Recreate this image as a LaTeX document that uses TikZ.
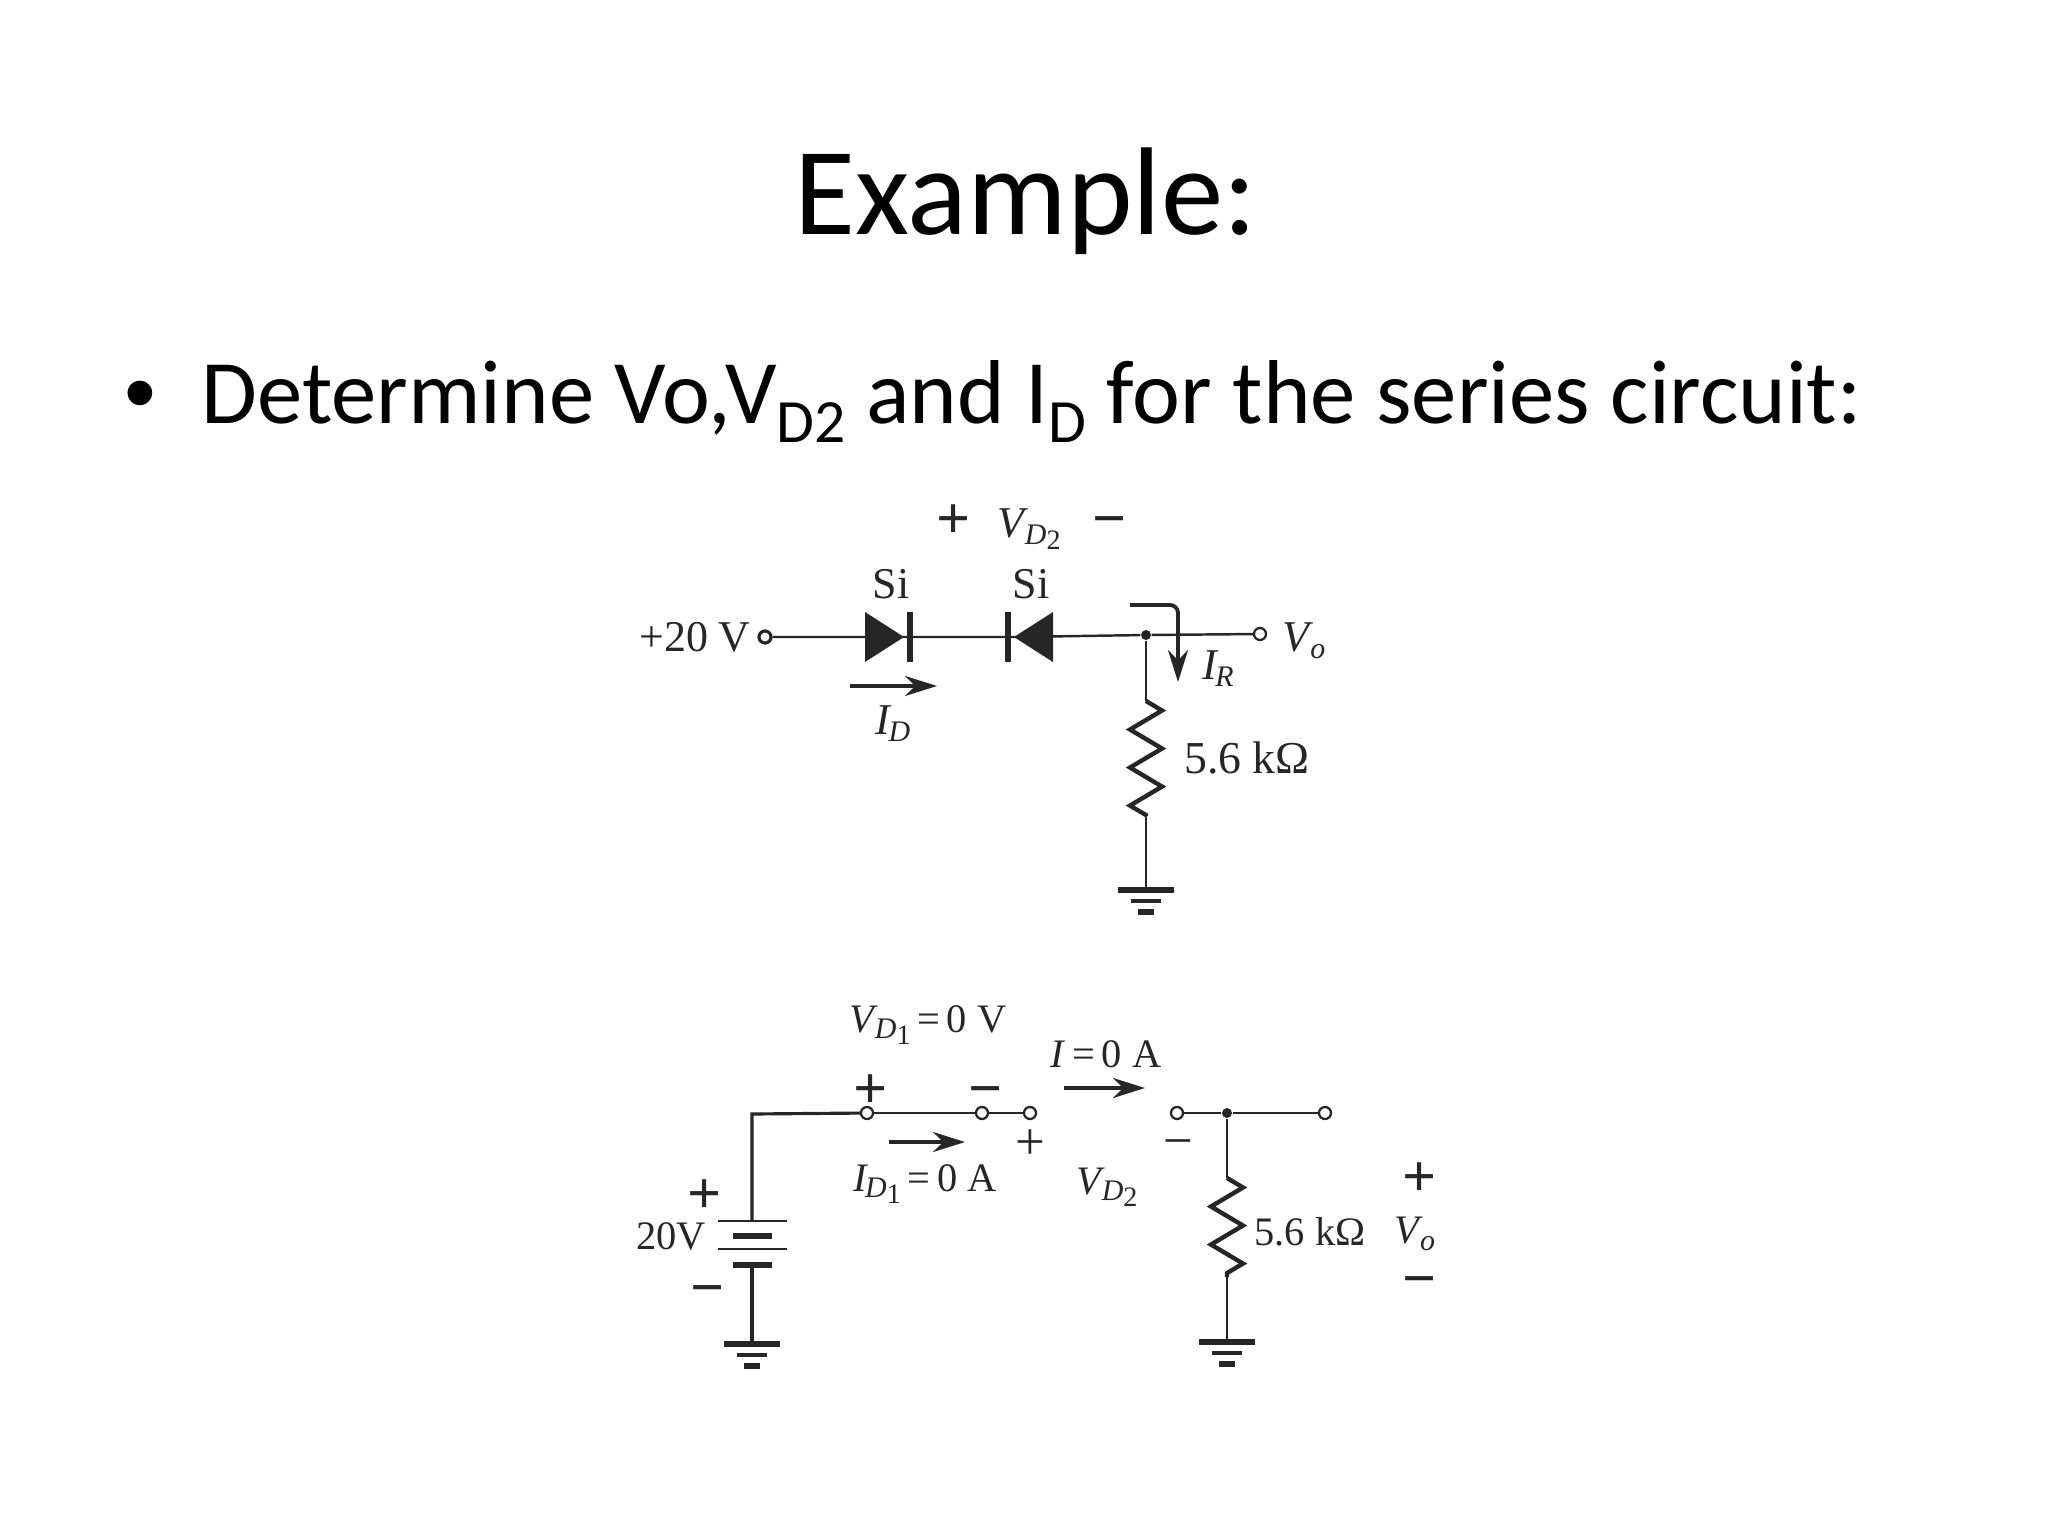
\documentclass[tikz,border=0pt]{standalone}
\usepackage{fontspec}
\setmainfont{Carlito}
\newfontfamily\cktfont{Liberation Serif}
\newfontfamily\bulletfont{Liberation Sans}
\usetikzlibrary{arrows.meta, decorations.pathmorphing, positioning}

\newcommand{\lowsub}[1]{\raisebox{-0.35ex}{\fontsize{8.5}{10}\selectfont #1}}
\newcommand{\lowsubb}[1]{\raisebox{-0.4ex}{\fontsize{8}{10}\selectfont\upshape #1}}
\newcommand{\sbs}[2]{\textit{#1}\kern-0.08em\lowsub{\textit{#2}}}
\newcommand{\slidesub}[1]{\raisebox{-0.22em}{\fontsize{17.5}{20}\selectfont #1}}
\tikzset{
    wire/.style={line width=0.7pt, black!85},
    lbl/.style={font=\cktfont\fontsize{12.5}{15}\selectfont, black!85, inner sep=0pt},
    lblsm/.style={font=\cktfont\fontsize{11.5}{14}\selectfont, black!85, inner sep=0pt},
    sign/.style={font=\bfseries\cktfont\fontsize{17}{19}\selectfont, black!85, inner sep=0pt},
    signsm/.style={font=\cktfont\fontsize{15}{17}\selectfont, black!85, inner sep=0pt},
    term/.style={circle, draw=black!85, line width=0.65pt, fill=white, inner sep=0pt, minimum size=0.12cm},
    joint/.style={circle, fill=black!85, inner sep=0pt, minimum size=0.1cm},
    curr/.style={line width=1.1pt, black!85, -{Stealth[length=0.32cm, width=0.2cm]}},
    res/.style={wire, line width=1.25pt, decoration={zigzag, segment length=0.38cm, amplitude=0.16cm}},
    gnd/.pic={
        \draw[line width=1.5pt, black!85] (-28, 0) -- (28, 0);
        \draw[line width=1.3pt, black!85] (-15, 11) -- (15, 11);
        \draw[line width=1.6pt, black!85] (-8, 22) -- (8, 22);
    },
    diode/.pic={
        \fill[black!85] (-39, -25) -- (0, 0) -- (-39, 25) -- cycle;
        \draw[line width=1.5pt, black!85] (6, -25) -- (6, 25);
    }
}

\begin{document}
\begin{tikzpicture}[x=0.01cm, y=-0.01cm]
    \useasboundingbox (0, 0) rectangle (2048, 1536);

    % slide text
    \node[anchor=base, inner sep=0pt, font=\fontsize{35.5}{40}\selectfont] (title) at (1026, 234) {Example:};
    \node[anchor=base, inner sep=0pt, font=\bulletfont\fontsize{25.8}{30}\selectfont] (bullet) at (140, 423) {•};
    \node[anchor=base west, inner sep=0pt, font=\fontsize{25.8}{30}\selectfont] (task) at (201, 423)
        {Determine Vo,V\slidesub{D2} and I\slidesub{D} for the series circuit:};

    % series circuit
    \node[term, line width=0.9pt] (inA) at (765, 637) {};
    \node[lbl, left=0.06cm of inA] (srcA) {+20 V};
    \coordinate (dOne) at (904, 637);
    \coordinate (dTwo) at (1014, 637);
    \node[joint] (dotA) at (1146, 635) {};
    \node[term] (outA) at (1260, 634) {};
    \node[lbl] (voA) at (1304, 641) {\sbs{V}{o}};
    \coordinate (rTopA) at (1146, 701);
    \coordinate (rBotA) at (1146, 816);
    \coordinate (gndA) at (1146, 890);

    \draw[wire] (inA) -- (dOne) -- (dTwo) -- (dotA) -- (outA);
    \draw[wire] (dotA) -- (rTopA);
    \draw[res, decorate] (rTopA) -- (rBotA);
    \draw[wire] (rBotA) -- (gndA);
    \pic at (dOne) {diode};
    \pic[xscale=-1] at (dTwo) {diode};
    \pic at (gndA) {gnd};

    \node[lbl] (siOne) at (891, 584) {Si};
    \node[lbl] (siTwo) at (1031, 584) {Si};
    \node[sign] (plusA) at (954, 522) {+};
    \node[lbl] (vdA) at (1029, 529) {\sbs{V}{D\lowsubb{2}}};
    \node[sign] (minusA) at (1110, 528) {−};

    \coordinate (idS) at (850, 686);
    \coordinate (idE) at (937, 686);
    \draw[curr] (idS) -- (idE);
    \node[lbl] (idA) at (893, 724) {\sbs{I}{D}};
    \coordinate (irS) at (1130, 605);
    \coordinate (irE) at (1178, 682);
    \draw[curr, rounded corners=0.08cm] (irS) -| (irE);
    \node[lbl] (irA) at (1218, 669) {\sbs{I}{R}};
    \node[lbl, font=\cktfont\fontsize{13}{15}\selectfont] (rvA) at (1247, 758) {5.6 kΩ};

    % equivalent circuit
    \coordinate (corner) at (752, 1114);
    \node[term] (tOne) at (867, 1113) {};
    \node[term] (tTwo) at (982, 1113) {};
    \node[term] (tThree) at (1030, 1113) {};
    \node[term] (tFour) at (1177, 1113) {};
    \node[joint] (dotB) at (1227, 1113) {};
    \node[term] (outB) at (1325, 1113) {};
    \coordinate (batTop) at (752, 1221);
    \coordinate (batBot) at (752, 1265);
    \coordinate (gndL) at (752, 1344);
    \coordinate (rTopB) at (1227, 1178);
    \coordinate (rBotB) at (1227, 1277);
    \coordinate (gndR) at (1227, 1342);

    \draw[wire, line width=0.9pt] (tOne) -- (corner) -- (batTop);
    \draw[wire] (tOne) -- (tTwo) -- (tThree);
    \draw[wire] (tFour) -- (dotB) -- (outB);
    \draw[wire] (dotB) -- (rTopB);
    \draw[res, decorate] (rTopB) -- (rBotB);
    \draw[wire] (rBotB) -- (gndR);
    \draw[wire, line width=0.9pt] (batBot) -- (gndL);
    \pic at (gndL) {gnd};
    \pic at (gndR) {gnd};

    % battery plates
    \foreach \y in {1221, 1249} {
        \draw[line width=0.7pt, black!85] (718, \y) -- (787, \y);
    }
    \foreach \y in {1236, 1265} {
        \draw[line width=1.5pt, black!85] (733, \y) -- (772, \y);
    }

    \node[lblsm] (vdOne) at (928, 1025) {\sbs{V}{D\lowsubb{1}}\,=\,0 V};
    \node[lblsm] (iZero) at (1106, 1054) {\textit{I}\,=\,0 A};
    \node[sign] (plusB) at (871, 1092) {+};
    \node[sign] (minusB) at (986, 1098) {−};
    \coordinate (iS) at (1064, 1088);
    \coordinate (iE) at (1145, 1088);
    \draw[curr] (iS) -- (iE);
    \coordinate (idbS) at (889, 1142);
    \coordinate (idbE) at (965, 1142);
    \draw[curr] (idbS) -- (idbE);
    \node[signsm] (plusC) at (1030, 1145) {+};
    \node[signsm] (minusC) at (1178, 1149) {−};
    \node[lblsm] (idOne) at (925, 1184) {\sbs{I}{D\lowsubb{1}}\,=\,0 A};
    \node[lblsm] (vdTwo) at (1107, 1187) {\sbs{V}{D\lowsubb{2}}};
    \node[lblsm] (rvB) at (1310, 1232) {5.6 kΩ};
    \node[lblsm] (voB) at (1415, 1234) {\sbs{V}{o}};
    \node[sign] (plusD) at (1420, 1180) {+};
    \node[sign] (minusD) at (1420, 1288) {−};
    \node[sign] (plusE) at (705, 1197) {+};
    \node[lblsm] (srcB) at (671, 1236) {20V};
    \node[sign] (minusE) at (708, 1297) {−};
\end{tikzpicture}
\end{document}
